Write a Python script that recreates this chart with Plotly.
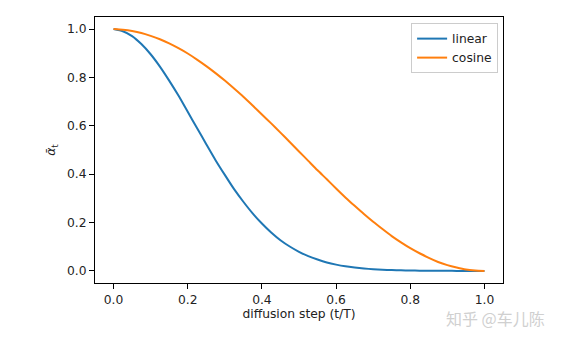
import plotly.graph_objects as go

# Data
steps = [0.000, 0.025, 0.050, 0.075, 0.100, 0.125, 0.150, 0.175, 0.200, 0.225,
         0.250, 0.275, 0.300, 0.325, 0.350, 0.375, 0.400, 0.425, 0.450, 0.475,
         0.500, 0.525, 0.550, 0.575, 0.600, 0.625, 0.650, 0.675, 0.700, 0.725,
         0.750, 0.775, 0.800, 0.825, 0.850, 0.875, 0.900, 0.925, 0.950, 0.975, 1.000]
linear_vals = [1.000, 0.991, 0.971, 0.938, 0.896, 0.845, 0.787, 0.725, 0.658, 0.591,
               0.524, 0.458, 0.397, 0.338, 0.286, 0.238, 0.196, 0.159, 0.127, 0.101,
               0.079, 0.061, 0.047, 0.035, 0.026, 0.019, 0.014, 0.010, 0.007, 0.005,
               0.0035, 0.0024, 0.0015, 0.0010, 0.0006, 0.0004, 0.0002, 0.0001, 0.0001, 0.0000, 0.0000]
cosine_vals = [1.000, 0.997, 0.992, 0.984, 0.972, 0.958, 0.941, 0.921, 0.899, 0.874,
               0.847, 0.818, 0.787, 0.754, 0.720, 0.684, 0.647, 0.610, 0.572, 0.533,
               0.494, 0.455, 0.416, 0.379, 0.341, 0.304, 0.269, 0.235, 0.203, 0.173,
               0.144, 0.118, 0.094, 0.073, 0.054, 0.037, 0.024, 0.014, 0.006, 0.002, 0.000]
tick_vals = [0.0, 0.2, 0.4, 0.6, 0.8, 1.0]
tick_text = ["0.0", "0.2", "0.4", "0.6", "0.8", "1.0"]

FONT = "DejaVu Sans"
FS = 12.3
TXT = "#222222"

fig = go.Figure()
fig.add_trace(go.Scatter(x=steps, y=linear_vals, mode="lines", name="linear",
                         line=dict(color="#1f77b4", width=2, shape="spline", smoothing=0.6)))
fig.add_trace(go.Scatter(x=steps, y=cosine_vals, mode="lines", name="cosine",
                         line=dict(color="#ff7f0e", width=2, shape="spline", smoothing=0.6)))

axis_common = dict(
    showgrid=False, zeroline=False,
    showline=True, linecolor="#000000", linewidth=1, mirror=True,
    ticks="outside", ticklen=5, tickwidth=1, tickcolor="#000000",
    tickfont=dict(family=FONT, size=FS, color=TXT),
    tickvals=tick_vals, ticktext=tick_text,
)

fig.update_xaxes(range=[-0.05, 1.05],
                 title=dict(text="diffusion step (t/T)", standoff=3,
                            font=dict(family=FONT, size=FS, color=TXT)),
                 **axis_common)
fig.update_yaxes(range=[-0.05, 1.05],
                 title=dict(text="<i>ᾱ</i><sub>t</sub>", standoff=8,
                            font=dict(family=FONT, size=FS, color=TXT)),
                 **axis_common)

fig.update_layout(
    width=562, height=340,
    margin=dict(l=95, r=59, t=17, b=57),
    paper_bgcolor="white", plot_bgcolor="white",
    font=dict(family=FONT, size=FS, color=TXT),
    legend=dict(x=0.988, xanchor="right", y=0.977, yanchor="top",
                bordercolor="#cccccc", borderwidth=1, bgcolor="rgba(255,255,255,0.8)",
                font=dict(family=FONT, size=FS, color=TXT),
                itemwidth=30, tracegroupgap=0),
    showlegend=True,
)

fig.add_annotation(text="知乎 @车儿陈", xref="paper", yref="paper",
                   x=(495 - 95) / 408, y=-(318 - 283) / 266,
                   xanchor="center", yanchor="middle", showarrow=False,
                   font=dict(family="Noto Sans CJK SC", size=16, color="#d0d0d0"))

fig.write_html("out.html")
